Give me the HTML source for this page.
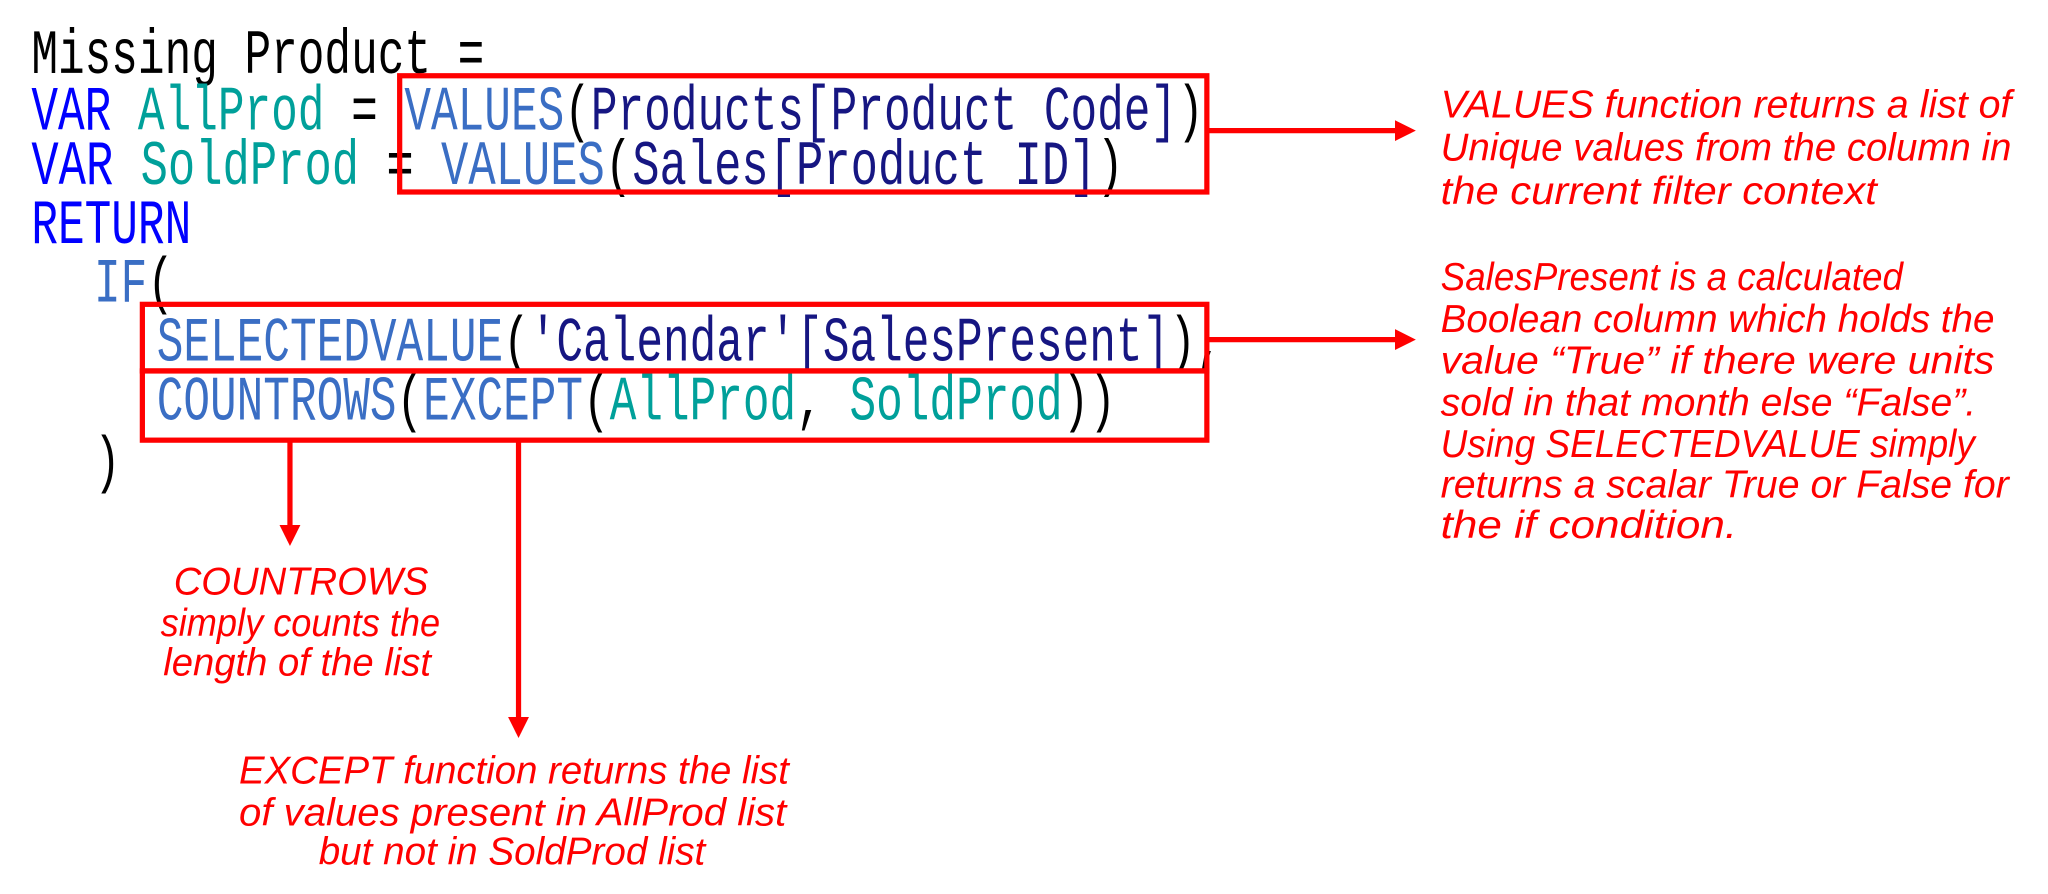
<!DOCTYPE html>
<html><head><meta charset="utf-8"><style>
html,body{margin:0;padding:0;background:#fff;width:2048px;height:894px;overflow:hidden}
</style></head><body>
<svg width="2048" height="894" xmlns="http://www.w3.org/2000/svg">
<defs><marker id="ah" markerWidth="4" markerHeight="4" refX="3" refY="2" orient="auto" markerUnits="strokeWidth"><path d="M0,0 L4,2 L0,4 z" fill="#f00"/></marker></defs>
<g transform="scale(1.30612)">
<g font-family="Liberation Mono, monospace" font-size="48">
<text x="24" y="56" textLength="346.8" lengthAdjust="spacingAndGlyphs" fill="#000">Missing Product =</text>
<text x="24" y="99" textLength="897.6" lengthAdjust="spacingAndGlyphs"><tspan fill="#0000ff">VAR </tspan><tspan fill="#00a09a">AllProd</tspan><tspan fill="#000"> = </tspan><tspan fill="#3a6ec4">VALUES</tspan><tspan fill="#000">(</tspan><tspan fill="#161682">Products[Product Code]</tspan><tspan fill="#000">)</tspan></text>
<text x="24" y="141" textLength="836.4" lengthAdjust="spacingAndGlyphs"><tspan fill="#0000ff">VAR </tspan><tspan fill="#00a09a">SoldProd</tspan><tspan fill="#000"> =  </tspan><tspan fill="#3a6ec4">VALUES</tspan><tspan fill="#000">(</tspan><tspan fill="#161682">Sales[Product ID]</tspan><tspan fill="#000">)</tspan></text>
<text x="24" y="186" textLength="122.4" lengthAdjust="spacingAndGlyphs" fill="#0000ff">RETURN</text>
<text x="72" y="231" textLength="61.2" lengthAdjust="spacingAndGlyphs"><tspan fill="#3a6ec4">IF</tspan><tspan fill="#000">(</tspan></text>
<text x="120" y="276" textLength="816" lengthAdjust="spacingAndGlyphs"><tspan fill="#3a6ec4">SELECTEDVALUE</tspan><tspan fill="#000">(</tspan><tspan fill="#161682">'Calendar'[SalesPresent]</tspan><tspan fill="#000">),</tspan></text>
<text x="120" y="321" textLength="734.4" lengthAdjust="spacingAndGlyphs"><tspan fill="#3a6ec4">COUNTROWS</tspan><tspan fill="#000">(</tspan><tspan fill="#3a6ec4">EXCEPT</tspan><tspan fill="#000">(</tspan><tspan fill="#00a09a">AllProd</tspan><tspan fill="#000">, </tspan><tspan fill="#00a09a">SoldProd</tspan><tspan fill="#000">))</tspan></text>
<text x="72" y="368" textLength="20.4" lengthAdjust="spacingAndGlyphs" fill="#000">)</text>
</g>
<g fill="none" stroke="#f00" stroke-width="4">
<rect x="306" y="58" width="618" height="89"/>
<rect x="109" y="233" width="815" height="51"/>
<rect x="109" y="284" width="815" height="53"/>
<line x1="924" y1="100" x2="1080" y2="100" marker-end="url(#ah)"/>
<line x1="924" y1="260" x2="1080" y2="260" marker-end="url(#ah)"/>
<line x1="222" y1="337" x2="222" y2="414" marker-end="url(#ah)"/>
<line x1="397" y1="337" x2="397" y2="561" marker-end="url(#ah)"/>
</g>
<g font-family="Liberation Sans, sans-serif" font-style="italic" font-size="30" fill="#f00">
<text x="1103" y="90" textLength="437" lengthAdjust="spacingAndGlyphs">VALUES function returns a list of</text>
<text x="1103" y="123" textLength="437" lengthAdjust="spacingAndGlyphs">Unique values from the column in</text>
<text x="1103" y="156" textLength="334" lengthAdjust="spacingAndGlyphs">the current filter context</text>
<text x="1103" y="222" textLength="354" lengthAdjust="spacingAndGlyphs">SalesPresent is a calculated</text>
<text x="1103" y="254" textLength="424" lengthAdjust="spacingAndGlyphs">Boolean column which holds the</text>
<text x="1103" y="286" textLength="424" lengthAdjust="spacingAndGlyphs">value “True” if there were units</text>
<text x="1103" y="318" textLength="410" lengthAdjust="spacingAndGlyphs">sold in that month else “False”.</text>
<text x="1103" y="350" textLength="409" lengthAdjust="spacingAndGlyphs">Using SELECTEDVALUE simply</text>
<text x="1103" y="381" textLength="435" lengthAdjust="spacingAndGlyphs">returns a scalar True or False for</text>
<text x="1103" y="412" textLength="227" lengthAdjust="spacingAndGlyphs">the if condition.</text>
<text x="133" y="455" textLength="195" lengthAdjust="spacingAndGlyphs">COUNTROWS</text>
<text x="123" y="487" textLength="214" lengthAdjust="spacingAndGlyphs">simply counts the</text>
<text x="125" y="517" textLength="205" lengthAdjust="spacingAndGlyphs">length of the list</text>
<text x="183" y="600" textLength="421" lengthAdjust="spacingAndGlyphs">EXCEPT function returns the list</text>
<text x="183" y="632" textLength="419" lengthAdjust="spacingAndGlyphs">of values present in AllProd list</text>
<text x="244" y="662" textLength="296" lengthAdjust="spacingAndGlyphs">but not in SoldProd list</text>
</g>
</g>
</svg>
</body></html>
